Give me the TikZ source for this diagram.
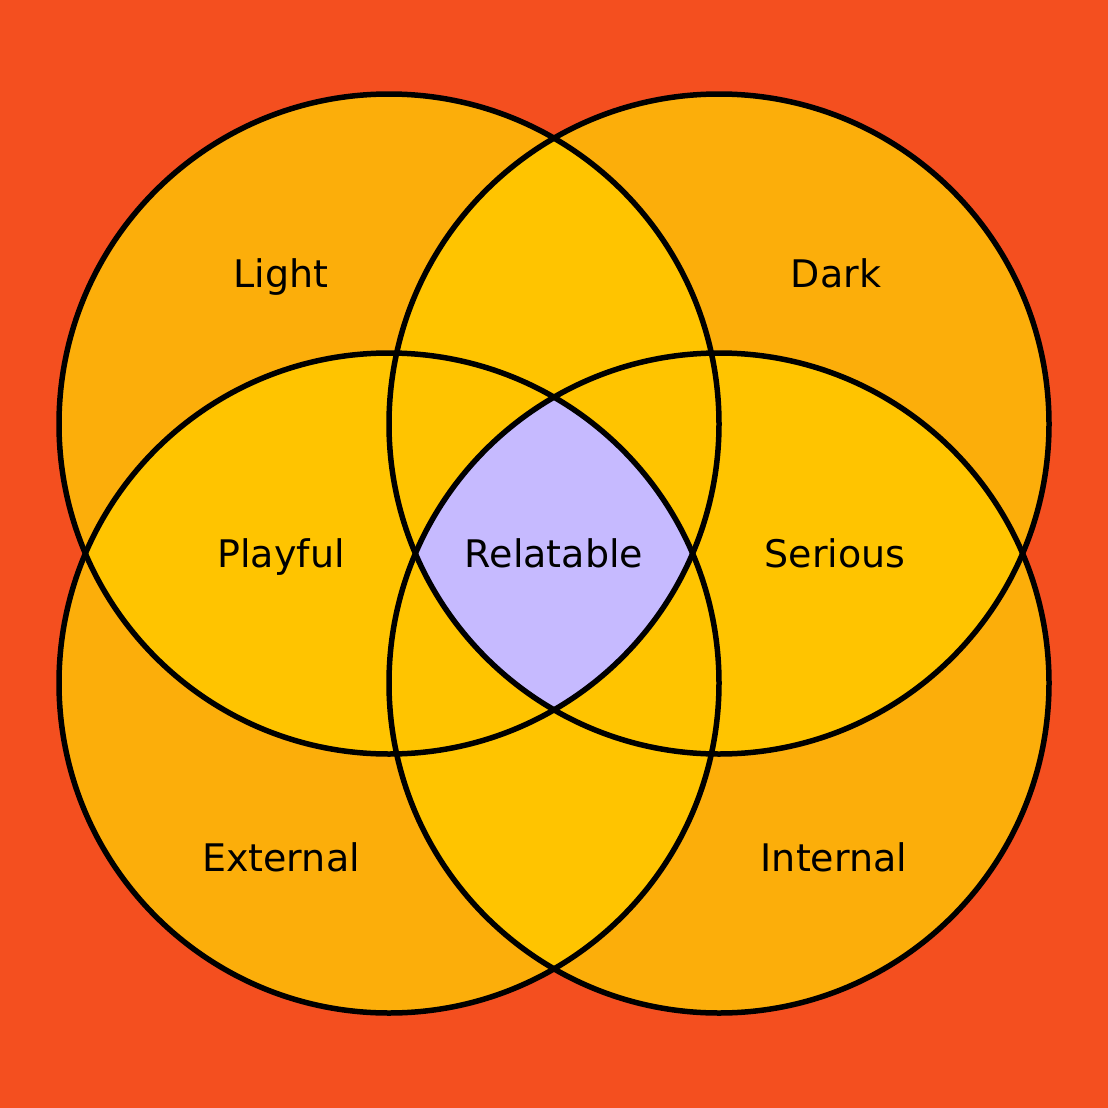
\documentclass[tikz,border=0pt]{standalone}
\usepackage{fontspec}
\setmainfont{DejaVu Sans}
\definecolor{bg}{HTML}{F44F1F}
\definecolor{single}{HTML}{FCAE0A}
\definecolor{overlap}{HTML}{FFC400}
\definecolor{center}{HTML}{C6BAFF}
\begin{document}
\begin{tikzpicture}[x=1pt,y=-1pt,
  ring/.style={draw=black,line width=5.5pt},
  lbl/.style={font=\fontsize{38}{44}\selectfont,text=black,inner sep=0pt,anchor=base}]
\fill[bg] (0,0) rectangle (1108,1108);
\useasboundingbox (0,0) rectangle (1108,1108);
\def\R{330}
\coordinate (tl) at (389,424);
\coordinate (tr) at (719,424);
\coordinate (bl) at (389,683);
\coordinate (br) at (719,683);
% single fills
\foreach \c in {tl,tr,bl,br} \fill[single] (\c) circle (\R);
% pairwise overlaps
\foreach \a/\b in {tl/tr,tl/bl,tl/br,tr/bl,tr/br,bl/br}{
  \begin{scope}
    \clip (\a) circle (\R);
    \fill[overlap] (\b) circle (\R);
  \end{scope}
}
% four-way overlap
\begin{scope}
  \clip (tl) circle (\R);
  \clip (tr) circle (\R);
  \clip (bl) circle (\R);
  \fill[center] (br) circle (\R);
\end{scope}
% outlines
\foreach \c in {tl,tr,bl,br} \draw[ring] (\c) circle (\R);
% labels
\node[lbl] (light) at (281,287) {Light};
\node[lbl] (dark) at (836,287) {Dark};
\node[lbl] (playful) at (281,567) {Playful};
\node[lbl] (relatable) at (554,567) {Relatable};
\node[lbl] (serious) at (835,567) {Serious};
\node[lbl] (external) at (281,871) {External};
\node[lbl] (internal) at (834,871) {Internal};
\end{tikzpicture}
\end{document}
